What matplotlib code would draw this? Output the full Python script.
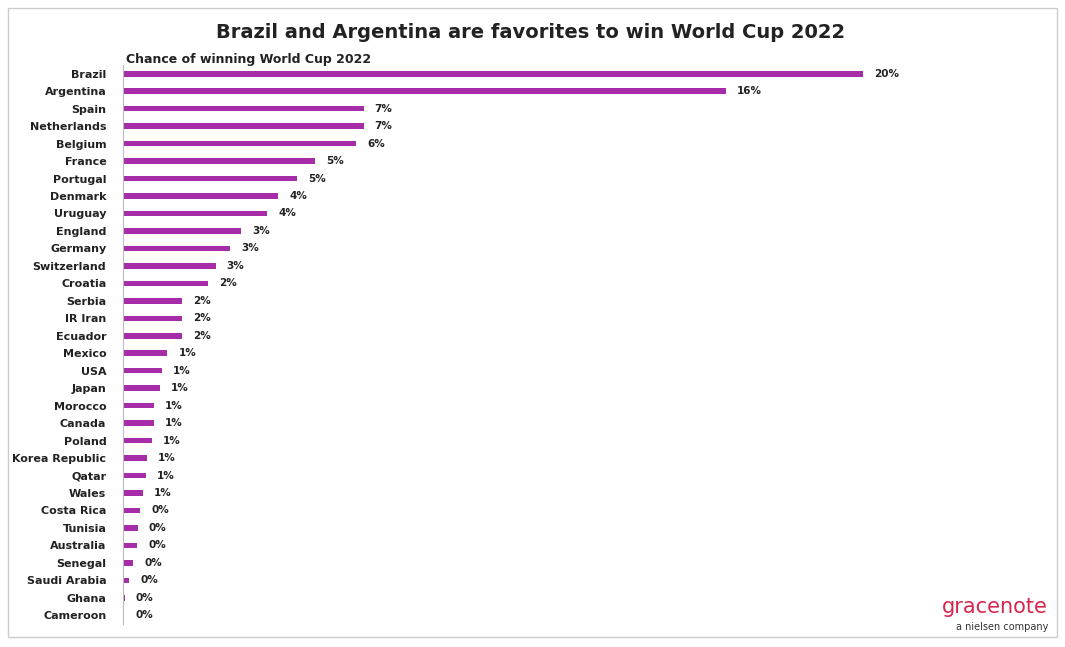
import matplotlib.pyplot as plt
from matplotlib.patches import Rectangle

countries = ["Brazil","Argentina","Spain","Netherlands","Belgium","France","Portugal","Denmark",
             "Uruguay","England","Germany","Switzerland","Croatia","Serbia","IR Iran","Ecuador",
             "Mexico","USA","Japan","Morocco","Canada","Poland","Korea Republic","Qatar","Wales",
             "Costa Rica","Tunisia","Australia","Senegal","Saudi Arabia","Ghana","Cameroon"]
values = [20.0,16.3,6.5,6.5,6.3,5.2,4.7,4.2,3.9,3.2,2.9,2.5,2.3,1.6,1.6,1.6,1.2,1.05,1.0,0.84,
          0.84,0.78,0.65,0.62,0.54,0.46,0.4,0.38,0.27,0.16,0.05,0.03]
labels = ["20%","16%","7%","7%","6%","5%","5%","4%","4%","3%","3%","3%","2%","2%","2%","2%",
          "1%","1%","1%","1%","1%","1%","1%","1%","1%","0%","0%","0%","0%","0%","0%","0%"]

W, H = 1065, 647
fig = plt.figure(figsize=(W/100, H/100), dpi=100)
fig.patches.append(Rectangle((8/W, 10/H), 1-16/W, 1-18/H, transform=fig.transFigure,
                             fill=False, edgecolor="#cccccc", lw=1))
top, bot = 65, 624
ax = fig.add_axes([123/W, 1-bot/H, (937-123)/W, (bot-top)/H])
y = list(range(len(countries)))
ax.barh(y, values, height=0.32, color="#A62CA8")
ax.set_ylim(len(countries)-0.5, -0.5)
ax.set_xlim(0, 22)
for yi, v, l in zip(y, values, labels):
    ax.text(v + 0.3, yi, l, va="center", ha="left", fontsize=7.5, fontweight="bold", color="#222")
ax.set_yticks(y)
ax.set_yticklabels(countries, fontsize=8, fontweight="bold", color="#222")
ax.tick_params(axis="y", length=0, pad=12)
ax.set_xticks([])
for s in ["top", "right", "bottom"]:
    ax.spines[s].set_visible(False)
ax.spines["left"].set_color("#bbbbbb")
fig.text(531/W, 1-33/H, "Brazil and Argentina are favorites to win World Cup 2022",
         ha="center", va="center", fontsize=14, fontweight="bold", color="#222")
fig.text(126/W, 1-60/H, "Chance of winning World Cup 2022", ha="left", va="center",
         fontsize=9, fontweight="bold", color="#222")
fig.text(1048/W, 1-607/H, "gracenote", ha="right", va="center", fontsize=15, color="#d6264f")
fig.text(1048/W, 1-627/H, "a nielsen company", ha="right", va="center", fontsize=7, color="#333")
fig.savefig("out.png", dpi=100)
